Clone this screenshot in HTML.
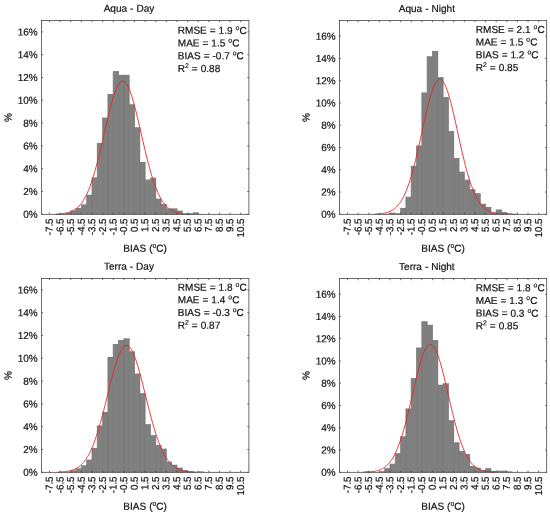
<!DOCTYPE html>
<html><head><meta charset="utf-8"><title>Histograms</title>
<style>
html,body{margin:0;padding:0;background:#fff;}
svg{display:block;font-family:"Liberation Sans",sans-serif;fill:#111;} text{stroke:#111;stroke-width:0.2px;word-spacing:0.2px;}
</style></head><body>
<svg width="550" height="516" viewBox="0 0 550 516">
<rect width="550" height="516" fill="#ffffff"/>
<g><rect x="60.12" y="213.73" width="5.46" height="0.57" fill="#808080"/>
<rect x="65.43" y="212.59" width="5.46" height="1.71" fill="#808080"/>
<rect x="70.74" y="210.53" width="5.46" height="3.77" fill="#808080"/>
<rect x="76.05" y="208.01" width="5.46" height="6.29" fill="#808080"/>
<rect x="81.36" y="204.36" width="5.46" height="9.94" fill="#808080"/>
<rect x="86.67" y="194.75" width="5.46" height="19.55" fill="#808080"/>
<rect x="91.98" y="177.38" width="5.46" height="36.92" fill="#808080"/>
<rect x="97.29" y="142.86" width="5.46" height="71.44" fill="#808080"/>
<rect x="102.60" y="117.60" width="5.46" height="96.70" fill="#808080"/>
<rect x="107.91" y="93.94" width="5.46" height="120.36" fill="#808080"/>
<rect x="113.22" y="71.08" width="5.46" height="143.22" fill="#808080"/>
<rect x="118.53" y="74.85" width="5.46" height="139.45" fill="#808080"/>
<rect x="123.84" y="74.85" width="5.46" height="139.45" fill="#808080"/>
<rect x="129.15" y="104.23" width="5.46" height="110.07" fill="#808080"/>
<rect x="134.46" y="127.20" width="5.46" height="87.10" fill="#808080"/>
<rect x="139.77" y="161.95" width="5.46" height="52.35" fill="#808080"/>
<rect x="145.08" y="179.55" width="5.46" height="34.75" fill="#808080"/>
<rect x="150.39" y="177.72" width="5.46" height="36.58" fill="#808080"/>
<rect x="155.70" y="198.64" width="5.46" height="15.66" fill="#808080"/>
<rect x="161.01" y="204.01" width="5.46" height="10.29" fill="#808080"/>
<rect x="166.32" y="208.36" width="5.46" height="5.94" fill="#808080"/>
<rect x="171.63" y="208.36" width="5.46" height="5.94" fill="#808080"/>
<rect x="176.94" y="210.64" width="5.46" height="3.66" fill="#808080"/>
<rect x="182.25" y="213.73" width="5.46" height="0.57" fill="#808080"/>
<rect x="187.56" y="213.16" width="5.46" height="1.14" fill="#808080"/>
<rect x="192.87" y="212.36" width="5.46" height="1.94" fill="#808080"/>
<rect x="198.18" y="213.96" width="5.46" height="0.34" fill="#808080"/>
<path d="M70.74 214.30V210.53M76.05 214.30V208.01M81.36 214.30V204.36M86.67 214.30V194.75M91.98 214.30V177.38M97.29 214.30V142.86M102.60 214.30V117.60M107.91 214.30V93.94M113.22 214.30V71.08M118.53 214.30V71.08M123.84 214.30V74.85M129.15 214.30V74.85M134.46 214.30V104.23M139.77 214.30V127.20M145.08 214.30V161.95M150.39 214.30V177.72M155.70 214.30V177.72M161.01 214.30V198.64M166.32 214.30V204.01M171.63 214.30V208.36M176.94 214.30V208.36M182.25 214.30V210.64" stroke="#727272" stroke-width="0.7" fill="none"/>
<polyline points="55.87,214.11 56.93,214.06 58.00,214.01 59.06,213.94 60.12,213.87 61.18,213.77 62.24,213.66 63.31,213.53 64.37,213.38 65.43,213.20 66.49,212.99 67.55,212.74 68.62,212.45 69.68,212.12 70.74,211.73 71.80,211.28 72.86,210.77 73.93,210.19 74.99,209.52 76.05,208.77 77.11,207.92 78.17,206.96 79.24,205.88 80.30,204.68 81.36,203.34 82.42,201.86 83.48,200.22 84.55,198.42 85.61,196.46 86.67,194.31 87.73,191.98 88.79,189.46 89.86,186.74 90.92,183.83 91.98,180.72 93.04,177.42 94.10,173.93 95.17,170.25 96.23,166.39 97.29,162.37 98.35,158.20 99.41,153.89 100.48,149.47 101.54,144.95 102.60,140.36 103.66,135.72 104.72,131.08 105.79,126.44 106.85,121.86 107.91,117.36 108.97,112.97 110.03,108.73 111.10,104.68 112.16,100.85 113.22,97.27 114.28,93.98 115.34,91.01 116.41,88.37 117.47,86.11 118.53,84.23 119.59,82.76 120.65,81.71 121.72,81.10 122.78,80.92 123.84,81.19 124.90,81.89 125.96,83.02 127.03,84.57 128.09,86.53 129.15,88.87 130.21,91.57 131.27,94.62 132.34,97.97 133.40,101.60 134.46,105.48 135.52,109.57 136.58,113.84 137.65,118.25 138.71,122.77 139.77,127.37 140.83,132.01 141.89,136.65 142.96,141.28 144.02,145.86 145.08,150.36 146.14,154.76 147.20,159.04 148.27,163.19 149.33,167.18 150.39,171.00 151.45,174.64 152.51,178.10 153.58,181.36 154.64,184.43 155.70,187.30 156.76,189.97 157.82,192.46 158.89,194.75 159.95,196.86 161.01,198.80 162.07,200.56 163.13,202.17 164.20,203.62 165.26,204.93 166.32,206.11 167.38,207.16 168.44,208.09 169.51,208.93 170.57,209.66 171.63,210.31 172.69,210.88 173.75,211.38 174.82,211.81 175.88,212.19 176.94,212.51 178.00,212.79 179.06,213.03 180.13,213.24 181.19,213.41 182.25,213.56 183.31,213.69 184.37,213.79 185.44,213.88 186.50,213.96 187.56,214.02 188.62,214.07 189.68,214.11" fill="none" stroke="#e8262a" stroke-width="0.9"/>
<rect x="41.40" y="20.50" width="207.50" height="193.80" fill="none" stroke="#3a3a3a" stroke-width="0.75"/>
<text transform="translate(52.80,218.50) rotate(-89.9) scale(0.965,1)" text-anchor="end" font-size="10.1">-7.5</text>
<text transform="translate(63.42,218.50) rotate(-89.9) scale(0.965,1)" text-anchor="end" font-size="10.1">-6.5</text>
<text transform="translate(74.04,218.50) rotate(-89.9) scale(0.965,1)" text-anchor="end" font-size="10.1">-5.5</text>
<text transform="translate(84.66,218.50) rotate(-89.9) scale(0.965,1)" text-anchor="end" font-size="10.1">-4.5</text>
<text transform="translate(95.28,218.50) rotate(-89.9) scale(0.965,1)" text-anchor="end" font-size="10.1">-3.5</text>
<text transform="translate(105.90,218.50) rotate(-89.9) scale(0.965,1)" text-anchor="end" font-size="10.1">-2.5</text>
<text transform="translate(116.52,218.50) rotate(-89.9) scale(0.965,1)" text-anchor="end" font-size="10.1">-1.5</text>
<text transform="translate(127.14,218.50) rotate(-89.9) scale(0.965,1)" text-anchor="end" font-size="10.1">-0.5</text>
<text transform="translate(137.76,218.50) rotate(-89.9) scale(0.965,1)" text-anchor="end" font-size="10.1">0.5</text>
<text transform="translate(148.38,218.50) rotate(-89.9) scale(0.965,1)" text-anchor="end" font-size="10.1">1.5</text>
<text transform="translate(159.00,218.50) rotate(-89.9) scale(0.965,1)" text-anchor="end" font-size="10.1">2.5</text>
<text transform="translate(169.62,218.50) rotate(-89.9) scale(0.965,1)" text-anchor="end" font-size="10.1">3.5</text>
<text transform="translate(180.24,218.50) rotate(-89.9) scale(0.965,1)" text-anchor="end" font-size="10.1">4.5</text>
<text transform="translate(190.86,218.50) rotate(-89.9) scale(0.965,1)" text-anchor="end" font-size="10.1">5.5</text>
<text transform="translate(201.48,218.50) rotate(-89.9) scale(0.965,1)" text-anchor="end" font-size="10.1">6.5</text>
<text transform="translate(212.10,218.50) rotate(-89.9) scale(0.965,1)" text-anchor="end" font-size="10.1">7.5</text>
<text transform="translate(222.72,218.50) rotate(-89.9) scale(0.965,1)" text-anchor="end" font-size="10.1">8.5</text>
<text transform="translate(233.34,218.50) rotate(-89.9) scale(0.965,1)" text-anchor="end" font-size="10.1">9.5</text>
<text transform="translate(243.96,218.50) rotate(-89.9) scale(0.965,1)" text-anchor="end" font-size="10.1">10.5</text>
<text transform="translate(37.70,217.85) rotate(0.03) scale(0.98,1)" text-anchor="end" font-size="10.2">0%</text>
<text transform="translate(37.70,195.05) rotate(0.03) scale(0.98,1)" text-anchor="end" font-size="10.2">2%</text>
<text transform="translate(37.70,172.25) rotate(0.03) scale(0.98,1)" text-anchor="end" font-size="10.2">4%</text>
<text transform="translate(37.70,149.45) rotate(0.03) scale(0.98,1)" text-anchor="end" font-size="10.2">6%</text>
<text transform="translate(37.70,126.65) rotate(0.03) scale(0.98,1)" text-anchor="end" font-size="10.2">8%</text>
<text transform="translate(37.70,103.85) rotate(0.03) scale(0.98,1)" text-anchor="end" font-size="10.2">10%</text>
<text transform="translate(37.70,81.05) rotate(0.03) scale(0.98,1)" text-anchor="end" font-size="10.2">12%</text>
<text transform="translate(37.70,58.25) rotate(0.03) scale(0.98,1)" text-anchor="end" font-size="10.2">14%</text>
<text transform="translate(37.70,35.45) rotate(0.03) scale(0.98,1)" text-anchor="end" font-size="10.2">16%</text>
<path d="M49.50 214.30v-1.6M49.50 20.50v1.6M60.12 214.30v-1.6M60.12 20.50v1.6M70.74 214.30v-1.6M70.74 20.50v1.6M81.36 214.30v-1.6M81.36 20.50v1.6M91.98 214.30v-1.6M91.98 20.50v1.6M102.60 214.30v-1.6M102.60 20.50v1.6M113.22 214.30v-1.6M113.22 20.50v1.6M123.84 214.30v-1.6M123.84 20.50v1.6M134.46 214.30v-1.6M134.46 20.50v1.6M145.08 214.30v-1.6M145.08 20.50v1.6M155.70 214.30v-1.6M155.70 20.50v1.6M166.32 214.30v-1.6M166.32 20.50v1.6M176.94 214.30v-1.6M176.94 20.50v1.6M187.56 214.30v-1.6M187.56 20.50v1.6M198.18 214.30v-1.6M198.18 20.50v1.6M208.80 214.30v-1.6M208.80 20.50v1.6M219.42 214.30v-1.6M219.42 20.50v1.6M230.04 214.30v-1.6M230.04 20.50v1.6M240.66 214.30v-1.6M240.66 20.50v1.6M41.40 214.30h1.6M248.90 214.30h-1.6M41.40 191.50h1.6M248.90 191.50h-1.6M41.40 168.70h1.6M248.90 168.70h-1.6M41.40 145.90h1.6M248.90 145.90h-1.6M41.40 123.10h1.6M248.90 123.10h-1.6M41.40 100.30h1.6M248.90 100.30h-1.6M41.40 77.50h1.6M248.90 77.50h-1.6M41.40 54.70h1.6M248.90 54.70h-1.6M41.40 31.90h1.6M248.90 31.90h-1.6" stroke="#444" stroke-width="0.8" fill="none"/>
<text transform="translate(128.95,11.80) rotate(0.03) scale(0.985,1)" text-anchor="middle" font-size="10.2">Aqua - Day</text>
<text transform="translate(145.15,251.80) rotate(0.03) scale(0.985,1)" text-anchor="middle" font-size="10.2">BIAS (<tspan font-size="7" dy="-4">o</tspan><tspan dy="4">C)</tspan></text>
<text transform="translate(11.60,117.60) rotate(-89.9) scale(0.985,1)" text-anchor="middle" font-size="10.2">%</text>
<text transform="translate(177.80,33.85) rotate(0.03) scale(0.985,1)" text-anchor="start" font-size="10.2">RMSE = 1.9 <tspan font-size="7" dy="-4">o</tspan><tspan dy="4">C</tspan></text>
<text transform="translate(177.80,46.53) rotate(0.03) scale(0.985,1)" text-anchor="start" font-size="10.2">MAE = 1.5 <tspan font-size="7" dy="-4">o</tspan><tspan dy="4">C</tspan></text>
<text transform="translate(177.80,59.21) rotate(0.03) scale(0.985,1)" text-anchor="start" font-size="10.2">BIAS = -0.7 <tspan font-size="7" dy="-4">o</tspan><tspan dy="4">C</tspan></text>
<text transform="translate(177.80,71.89) rotate(0.03) scale(0.985,1)" text-anchor="start" font-size="10.2">R<tspan font-size="7" dy="-4">2</tspan><tspan dy="4"> = 0.88</tspan></text></g><g><rect x="384.67" y="213.75" width="5.46" height="0.56" fill="#808080"/>
<rect x="389.98" y="212.64" width="5.46" height="1.66" fill="#808080"/>
<rect x="395.29" y="213.19" width="5.46" height="1.11" fill="#808080"/>
<rect x="400.60" y="207.97" width="5.46" height="6.33" fill="#808080"/>
<rect x="405.91" y="196.76" width="5.46" height="17.54" fill="#808080"/>
<rect x="411.22" y="165.90" width="5.46" height="48.40" fill="#808080"/>
<rect x="416.53" y="145.48" width="5.46" height="68.82" fill="#808080"/>
<rect x="421.84" y="92.42" width="5.46" height="121.88" fill="#808080"/>
<rect x="427.15" y="56.24" width="5.46" height="158.06" fill="#808080"/>
<rect x="432.46" y="50.91" width="5.46" height="163.39" fill="#808080"/>
<rect x="437.77" y="77.10" width="5.46" height="137.20" fill="#808080"/>
<rect x="443.08" y="97.08" width="5.46" height="117.22" fill="#808080"/>
<rect x="448.39" y="131.05" width="5.46" height="83.25" fill="#808080"/>
<rect x="453.70" y="157.91" width="5.46" height="56.39" fill="#808080"/>
<rect x="459.01" y="171.68" width="5.46" height="42.62" fill="#808080"/>
<rect x="464.32" y="179.67" width="5.46" height="34.63" fill="#808080"/>
<rect x="469.63" y="189.21" width="5.46" height="25.09" fill="#808080"/>
<rect x="474.94" y="193.21" width="5.46" height="21.09" fill="#808080"/>
<rect x="480.25" y="203.76" width="5.46" height="10.54" fill="#808080"/>
<rect x="485.56" y="206.97" width="5.46" height="7.33" fill="#808080"/>
<rect x="490.87" y="212.52" width="5.46" height="1.78" fill="#808080"/>
<rect x="496.18" y="209.53" width="5.46" height="4.77" fill="#808080"/>
<rect x="501.49" y="212.08" width="5.46" height="2.22" fill="#808080"/>
<rect x="506.80" y="213.19" width="5.46" height="1.11" fill="#808080"/>
<rect x="512.11" y="213.75" width="5.46" height="0.56" fill="#808080"/>
<path d="M400.60 214.30V207.97M405.91 214.30V196.76M411.22 214.30V165.90M416.53 214.30V145.48M421.84 214.30V92.42M427.15 214.30V56.24M432.46 214.30V50.91M437.77 214.30V50.91M443.08 214.30V77.10M448.39 214.30V97.08M453.70 214.30V131.05M459.01 214.30V157.91M464.32 214.30V171.68M469.63 214.30V179.67M474.94 214.30V189.21M480.25 214.30V193.21M485.56 214.30V203.76M490.87 214.30V206.97M496.18 214.30V209.53M501.49 214.30V209.53" stroke="#727272" stroke-width="0.7" fill="none"/>
<polyline points="375.11,214.10 376.17,214.05 377.24,213.99 378.30,213.92 379.36,213.83 380.42,213.73 381.48,213.61 382.55,213.47 383.61,213.29 384.67,213.09 385.73,212.85 386.79,212.57 387.86,212.25 388.92,211.87 389.98,211.43 391.04,210.92 392.10,210.34 393.17,209.67 394.23,208.91 395.29,208.05 396.35,207.08 397.41,205.98 398.48,204.75 399.54,203.38 400.60,201.85 401.66,200.16 402.72,198.29 403.79,196.24 404.85,194.00 405.91,191.56 406.97,188.92 408.03,186.07 409.10,183.01 410.16,179.74 411.22,176.26 412.28,172.57 413.34,168.69 414.41,164.62 415.47,160.38 416.53,155.98 417.59,151.45 418.65,146.79 419.72,142.05 420.78,137.24 421.84,132.40 422.90,127.56 423.96,122.75 425.03,118.02 426.09,113.39 427.15,108.92 428.21,104.62 429.27,100.56 430.34,96.75 431.40,93.24 432.46,90.07 433.52,87.25 434.58,84.82 435.65,82.81 436.71,81.24 437.77,80.12 438.83,79.46 439.89,79.27 440.96,79.55 442.02,80.31 443.08,81.52 444.14,83.18 445.20,85.28 446.27,87.78 447.33,90.67 448.39,93.92 449.45,97.49 450.51,101.35 451.58,105.47 452.64,109.80 453.70,114.31 454.76,118.96 455.82,123.71 456.89,128.52 457.95,133.37 459.01,138.20 460.07,143.00 461.13,147.73 462.20,152.36 463.26,156.87 464.32,161.24 465.38,165.45 466.44,169.48 467.51,173.32 468.57,176.97 469.63,180.41 470.69,183.64 471.75,186.66 472.82,189.46 473.88,192.07 474.94,194.46 476.00,196.67 477.06,198.68 478.13,200.51 479.19,202.17 480.25,203.66 481.31,205.01 482.37,206.21 483.44,207.28 484.50,208.23 485.56,209.07 486.62,209.81 487.68,210.46 488.75,211.03 489.81,211.52 490.87,211.95 491.93,212.32 492.99,212.63 494.06,212.90 495.12,213.13 496.18,213.33 497.24,213.50 498.30,213.64 499.37,213.75 500.43,213.85 501.49,213.93 502.55,214.00 503.61,214.06 504.68,214.10" fill="none" stroke="#e8262a" stroke-width="0.9"/>
<rect x="339.40" y="20.60" width="207.30" height="193.70" fill="none" stroke="#3a3a3a" stroke-width="0.75"/>
<text transform="translate(350.80,218.50) rotate(-89.9) scale(0.965,1)" text-anchor="end" font-size="10.1">-7.5</text>
<text transform="translate(361.42,218.50) rotate(-89.9) scale(0.965,1)" text-anchor="end" font-size="10.1">-6.5</text>
<text transform="translate(372.04,218.50) rotate(-89.9) scale(0.965,1)" text-anchor="end" font-size="10.1">-5.5</text>
<text transform="translate(382.66,218.50) rotate(-89.9) scale(0.965,1)" text-anchor="end" font-size="10.1">-4.5</text>
<text transform="translate(393.28,218.50) rotate(-89.9) scale(0.965,1)" text-anchor="end" font-size="10.1">-3.5</text>
<text transform="translate(403.90,218.50) rotate(-89.9) scale(0.965,1)" text-anchor="end" font-size="10.1">-2.5</text>
<text transform="translate(414.52,218.50) rotate(-89.9) scale(0.965,1)" text-anchor="end" font-size="10.1">-1.5</text>
<text transform="translate(425.14,218.50) rotate(-89.9) scale(0.965,1)" text-anchor="end" font-size="10.1">-0.5</text>
<text transform="translate(435.76,218.50) rotate(-89.9) scale(0.965,1)" text-anchor="end" font-size="10.1">0.5</text>
<text transform="translate(446.38,218.50) rotate(-89.9) scale(0.965,1)" text-anchor="end" font-size="10.1">1.5</text>
<text transform="translate(457.00,218.50) rotate(-89.9) scale(0.965,1)" text-anchor="end" font-size="10.1">2.5</text>
<text transform="translate(467.62,218.50) rotate(-89.9) scale(0.965,1)" text-anchor="end" font-size="10.1">3.5</text>
<text transform="translate(478.24,218.50) rotate(-89.9) scale(0.965,1)" text-anchor="end" font-size="10.1">4.5</text>
<text transform="translate(488.86,218.50) rotate(-89.9) scale(0.965,1)" text-anchor="end" font-size="10.1">5.5</text>
<text transform="translate(499.48,218.50) rotate(-89.9) scale(0.965,1)" text-anchor="end" font-size="10.1">6.5</text>
<text transform="translate(510.10,218.50) rotate(-89.9) scale(0.965,1)" text-anchor="end" font-size="10.1">7.5</text>
<text transform="translate(520.72,218.50) rotate(-89.9) scale(0.965,1)" text-anchor="end" font-size="10.1">8.5</text>
<text transform="translate(531.34,218.50) rotate(-89.9) scale(0.965,1)" text-anchor="end" font-size="10.1">9.5</text>
<text transform="translate(541.96,218.50) rotate(-89.9) scale(0.965,1)" text-anchor="end" font-size="10.1">10.5</text>
<text transform="translate(335.70,217.85) rotate(0.03) scale(0.98,1)" text-anchor="end" font-size="10.2">0%</text>
<text transform="translate(335.70,195.59) rotate(0.03) scale(0.98,1)" text-anchor="end" font-size="10.2">2%</text>
<text transform="translate(335.70,173.32) rotate(0.03) scale(0.98,1)" text-anchor="end" font-size="10.2">4%</text>
<text transform="translate(335.70,151.06) rotate(0.03) scale(0.98,1)" text-anchor="end" font-size="10.2">6%</text>
<text transform="translate(335.70,128.79) rotate(0.03) scale(0.98,1)" text-anchor="end" font-size="10.2">8%</text>
<text transform="translate(335.70,106.53) rotate(0.03) scale(0.98,1)" text-anchor="end" font-size="10.2">10%</text>
<text transform="translate(335.70,84.26) rotate(0.03) scale(0.98,1)" text-anchor="end" font-size="10.2">12%</text>
<text transform="translate(335.70,62.00) rotate(0.03) scale(0.98,1)" text-anchor="end" font-size="10.2">14%</text>
<text transform="translate(335.70,39.74) rotate(0.03) scale(0.98,1)" text-anchor="end" font-size="10.2">16%</text>
<path d="M347.50 214.30v-1.6M347.50 20.60v1.6M358.12 214.30v-1.6M358.12 20.60v1.6M368.74 214.30v-1.6M368.74 20.60v1.6M379.36 214.30v-1.6M379.36 20.60v1.6M389.98 214.30v-1.6M389.98 20.60v1.6M400.60 214.30v-1.6M400.60 20.60v1.6M411.22 214.30v-1.6M411.22 20.60v1.6M421.84 214.30v-1.6M421.84 20.60v1.6M432.46 214.30v-1.6M432.46 20.60v1.6M443.08 214.30v-1.6M443.08 20.60v1.6M453.70 214.30v-1.6M453.70 20.60v1.6M464.32 214.30v-1.6M464.32 20.60v1.6M474.94 214.30v-1.6M474.94 20.60v1.6M485.56 214.30v-1.6M485.56 20.60v1.6M496.18 214.30v-1.6M496.18 20.60v1.6M506.80 214.30v-1.6M506.80 20.60v1.6M517.42 214.30v-1.6M517.42 20.60v1.6M528.04 214.30v-1.6M528.04 20.60v1.6M538.66 214.30v-1.6M538.66 20.60v1.6M339.40 214.30h1.6M546.70 214.30h-1.6M339.40 192.04h1.6M546.70 192.04h-1.6M339.40 169.77h1.6M546.70 169.77h-1.6M339.40 147.51h1.6M546.70 147.51h-1.6M339.40 125.24h1.6M546.70 125.24h-1.6M339.40 102.98h1.6M546.70 102.98h-1.6M339.40 80.71h1.6M546.70 80.71h-1.6M339.40 58.45h1.6M546.70 58.45h-1.6M339.40 36.19h1.6M546.70 36.19h-1.6" stroke="#444" stroke-width="0.8" fill="none"/>
<text transform="translate(426.85,11.90) rotate(0.03) scale(0.985,1)" text-anchor="middle" font-size="10.2">Aqua - Night</text>
<text transform="translate(443.05,251.80) rotate(0.03) scale(0.985,1)" text-anchor="middle" font-size="10.2">BIAS (<tspan font-size="7" dy="-4">o</tspan><tspan dy="4">C)</tspan></text>
<text transform="translate(309.60,117.65) rotate(-89.9) scale(0.985,1)" text-anchor="middle" font-size="10.2">%</text>
<text transform="translate(475.80,32.90) rotate(0.03) scale(0.985,1)" text-anchor="start" font-size="10.2">RMSE = 2.1 <tspan font-size="7" dy="-4">o</tspan><tspan dy="4">C</tspan></text>
<text transform="translate(475.80,45.58) rotate(0.03) scale(0.985,1)" text-anchor="start" font-size="10.2">MAE = 1.5 <tspan font-size="7" dy="-4">o</tspan><tspan dy="4">C</tspan></text>
<text transform="translate(475.80,58.26) rotate(0.03) scale(0.985,1)" text-anchor="start" font-size="10.2">BIAS = 1.2 <tspan font-size="7" dy="-4">o</tspan><tspan dy="4">C</tspan></text>
<text transform="translate(475.80,70.94) rotate(0.03) scale(0.985,1)" text-anchor="start" font-size="10.2">R<tspan font-size="7" dy="-4">2</tspan><tspan dy="4"> = 0.85</tspan></text></g><g><rect x="65.43" y="471.73" width="5.46" height="0.57" fill="#808080"/>
<rect x="70.74" y="470.24" width="5.46" height="2.06" fill="#808080"/>
<rect x="76.05" y="468.30" width="5.46" height="4.00" fill="#808080"/>
<rect x="81.36" y="465.33" width="5.46" height="6.97" fill="#808080"/>
<rect x="86.67" y="459.61" width="5.46" height="12.69" fill="#808080"/>
<rect x="91.98" y="447.95" width="5.46" height="24.35" fill="#808080"/>
<rect x="97.29" y="425.44" width="5.46" height="46.86" fill="#808080"/>
<rect x="102.60" y="411.95" width="5.46" height="60.35" fill="#808080"/>
<rect x="107.91" y="356.97" width="5.46" height="115.33" fill="#808080"/>
<rect x="113.22" y="343.94" width="5.46" height="128.36" fill="#808080"/>
<rect x="118.53" y="340.05" width="5.46" height="132.25" fill="#808080"/>
<rect x="123.84" y="338.34" width="5.46" height="133.96" fill="#808080"/>
<rect x="129.15" y="351.26" width="5.46" height="121.04" fill="#808080"/>
<rect x="134.46" y="373.54" width="5.46" height="98.76" fill="#808080"/>
<rect x="139.77" y="393.09" width="5.46" height="79.21" fill="#808080"/>
<rect x="145.08" y="424.07" width="5.46" height="48.23" fill="#808080"/>
<rect x="150.39" y="435.15" width="5.46" height="37.15" fill="#808080"/>
<rect x="155.70" y="444.87" width="5.46" height="27.43" fill="#808080"/>
<rect x="161.01" y="448.64" width="5.46" height="23.66" fill="#808080"/>
<rect x="166.32" y="461.67" width="5.46" height="10.63" fill="#808080"/>
<rect x="171.63" y="464.76" width="5.46" height="7.54" fill="#808080"/>
<rect x="176.94" y="467.61" width="5.46" height="4.69" fill="#808080"/>
<rect x="182.25" y="470.01" width="5.46" height="2.29" fill="#808080"/>
<rect x="187.56" y="471.16" width="5.46" height="1.14" fill="#808080"/>
<rect x="192.87" y="471.73" width="5.46" height="0.57" fill="#808080"/>
<rect x="198.18" y="471.39" width="5.46" height="0.91" fill="#808080"/>
<path d="M76.05 472.30V468.30M81.36 472.30V465.33M86.67 472.30V459.61M91.98 472.30V447.95M97.29 472.30V425.44M102.60 472.30V411.95M107.91 472.30V356.97M113.22 472.30V343.94M118.53 472.30V340.05M123.84 472.30V338.34M129.15 472.30V338.34M134.46 472.30V351.26M139.77 472.30V373.54M145.08 472.30V393.09M150.39 472.30V424.07M155.70 472.30V435.15M161.01 472.30V444.87M166.32 472.30V448.64M171.63 472.30V461.67M176.94 472.30V464.76M182.25 472.30V467.61" stroke="#727272" stroke-width="0.7" fill="none"/>
<polyline points="58.00,472.11 59.06,472.07 60.12,472.01 61.18,471.95 62.24,471.88 63.31,471.79 64.37,471.69 65.43,471.57 66.49,471.43 67.55,471.26 68.62,471.07 69.68,470.84 70.74,470.58 71.80,470.28 72.86,469.93 73.93,469.53 74.99,469.07 76.05,468.55 77.11,467.95 78.17,467.28 79.24,466.53 80.30,465.68 81.36,464.73 82.42,463.67 83.48,462.49 84.55,461.18 85.61,459.74 86.67,458.16 87.73,456.43 88.79,454.55 89.86,452.50 90.92,450.28 91.98,447.89 93.04,445.33 94.10,442.59 95.17,439.67 96.23,436.58 97.29,433.32 98.35,429.89 99.41,426.30 100.48,422.57 101.54,418.70 102.60,414.72 103.66,410.62 104.72,406.44 105.79,402.20 106.85,397.92 107.91,393.62 108.97,389.34 110.03,385.09 111.10,380.91 112.16,376.83 113.22,372.87 114.28,369.08 115.34,365.47 116.41,362.09 117.47,358.95 118.53,356.08 119.59,353.51 120.65,351.27 121.72,349.36 122.78,347.82 123.84,346.65 124.90,345.86 125.96,345.47 127.03,345.47 128.09,345.86 129.15,346.65 130.21,347.82 131.27,349.36 132.34,351.27 133.40,353.51 134.46,356.08 135.52,358.95 136.58,362.09 137.65,365.47 138.71,369.08 139.77,372.87 140.83,376.83 141.89,380.91 142.96,385.09 144.02,389.34 145.08,393.62 146.14,397.92 147.20,402.20 148.27,406.44 149.33,410.62 150.39,414.72 151.45,418.70 152.51,422.57 153.58,426.30 154.64,429.89 155.70,433.32 156.76,436.58 157.82,439.67 158.89,442.59 159.95,445.33 161.01,447.89 162.07,450.28 163.13,452.50 164.20,454.55 165.26,456.43 166.32,458.16 167.38,459.74 168.44,461.18 169.51,462.49 170.57,463.67 171.63,464.73 172.69,465.68 173.75,466.53 174.82,467.28 175.88,467.95 176.94,468.55 178.00,469.07 179.06,469.53 180.13,469.93 181.19,470.28 182.25,470.58 183.31,470.84 184.37,471.07 185.44,471.26 186.50,471.43 187.56,471.57 188.62,471.69 189.68,471.79 190.75,471.88 191.81,471.95 192.87,472.01 193.93,472.07 194.99,472.11" fill="none" stroke="#e8262a" stroke-width="0.9"/>
<rect x="41.40" y="278.50" width="207.50" height="193.80" fill="none" stroke="#3a3a3a" stroke-width="0.75"/>
<text transform="translate(52.80,476.50) rotate(-89.9) scale(0.965,1)" text-anchor="end" font-size="10.1">-7.5</text>
<text transform="translate(63.42,476.50) rotate(-89.9) scale(0.965,1)" text-anchor="end" font-size="10.1">-6.5</text>
<text transform="translate(74.04,476.50) rotate(-89.9) scale(0.965,1)" text-anchor="end" font-size="10.1">-5.5</text>
<text transform="translate(84.66,476.50) rotate(-89.9) scale(0.965,1)" text-anchor="end" font-size="10.1">-4.5</text>
<text transform="translate(95.28,476.50) rotate(-89.9) scale(0.965,1)" text-anchor="end" font-size="10.1">-3.5</text>
<text transform="translate(105.90,476.50) rotate(-89.9) scale(0.965,1)" text-anchor="end" font-size="10.1">-2.5</text>
<text transform="translate(116.52,476.50) rotate(-89.9) scale(0.965,1)" text-anchor="end" font-size="10.1">-1.5</text>
<text transform="translate(127.14,476.50) rotate(-89.9) scale(0.965,1)" text-anchor="end" font-size="10.1">-0.5</text>
<text transform="translate(137.76,476.50) rotate(-89.9) scale(0.965,1)" text-anchor="end" font-size="10.1">0.5</text>
<text transform="translate(148.38,476.50) rotate(-89.9) scale(0.965,1)" text-anchor="end" font-size="10.1">1.5</text>
<text transform="translate(159.00,476.50) rotate(-89.9) scale(0.965,1)" text-anchor="end" font-size="10.1">2.5</text>
<text transform="translate(169.62,476.50) rotate(-89.9) scale(0.965,1)" text-anchor="end" font-size="10.1">3.5</text>
<text transform="translate(180.24,476.50) rotate(-89.9) scale(0.965,1)" text-anchor="end" font-size="10.1">4.5</text>
<text transform="translate(190.86,476.50) rotate(-89.9) scale(0.965,1)" text-anchor="end" font-size="10.1">5.5</text>
<text transform="translate(201.48,476.50) rotate(-89.9) scale(0.965,1)" text-anchor="end" font-size="10.1">6.5</text>
<text transform="translate(212.10,476.50) rotate(-89.9) scale(0.965,1)" text-anchor="end" font-size="10.1">7.5</text>
<text transform="translate(222.72,476.50) rotate(-89.9) scale(0.965,1)" text-anchor="end" font-size="10.1">8.5</text>
<text transform="translate(233.34,476.50) rotate(-89.9) scale(0.965,1)" text-anchor="end" font-size="10.1">9.5</text>
<text transform="translate(243.96,476.50) rotate(-89.9) scale(0.965,1)" text-anchor="end" font-size="10.1">10.5</text>
<text transform="translate(37.70,475.85) rotate(0.03) scale(0.98,1)" text-anchor="end" font-size="10.2">0%</text>
<text transform="translate(37.70,453.05) rotate(0.03) scale(0.98,1)" text-anchor="end" font-size="10.2">2%</text>
<text transform="translate(37.70,430.25) rotate(0.03) scale(0.98,1)" text-anchor="end" font-size="10.2">4%</text>
<text transform="translate(37.70,407.45) rotate(0.03) scale(0.98,1)" text-anchor="end" font-size="10.2">6%</text>
<text transform="translate(37.70,384.65) rotate(0.03) scale(0.98,1)" text-anchor="end" font-size="10.2">8%</text>
<text transform="translate(37.70,361.85) rotate(0.03) scale(0.98,1)" text-anchor="end" font-size="10.2">10%</text>
<text transform="translate(37.70,339.05) rotate(0.03) scale(0.98,1)" text-anchor="end" font-size="10.2">12%</text>
<text transform="translate(37.70,316.25) rotate(0.03) scale(0.98,1)" text-anchor="end" font-size="10.2">14%</text>
<text transform="translate(37.70,293.45) rotate(0.03) scale(0.98,1)" text-anchor="end" font-size="10.2">16%</text>
<path d="M49.50 472.30v-1.6M49.50 278.50v1.6M60.12 472.30v-1.6M60.12 278.50v1.6M70.74 472.30v-1.6M70.74 278.50v1.6M81.36 472.30v-1.6M81.36 278.50v1.6M91.98 472.30v-1.6M91.98 278.50v1.6M102.60 472.30v-1.6M102.60 278.50v1.6M113.22 472.30v-1.6M113.22 278.50v1.6M123.84 472.30v-1.6M123.84 278.50v1.6M134.46 472.30v-1.6M134.46 278.50v1.6M145.08 472.30v-1.6M145.08 278.50v1.6M155.70 472.30v-1.6M155.70 278.50v1.6M166.32 472.30v-1.6M166.32 278.50v1.6M176.94 472.30v-1.6M176.94 278.50v1.6M187.56 472.30v-1.6M187.56 278.50v1.6M198.18 472.30v-1.6M198.18 278.50v1.6M208.80 472.30v-1.6M208.80 278.50v1.6M219.42 472.30v-1.6M219.42 278.50v1.6M230.04 472.30v-1.6M230.04 278.50v1.6M240.66 472.30v-1.6M240.66 278.50v1.6M41.40 472.30h1.6M248.90 472.30h-1.6M41.40 449.50h1.6M248.90 449.50h-1.6M41.40 426.70h1.6M248.90 426.70h-1.6M41.40 403.90h1.6M248.90 403.90h-1.6M41.40 381.10h1.6M248.90 381.10h-1.6M41.40 358.30h1.6M248.90 358.30h-1.6M41.40 335.50h1.6M248.90 335.50h-1.6M41.40 312.70h1.6M248.90 312.70h-1.6M41.40 289.90h1.6M248.90 289.90h-1.6" stroke="#444" stroke-width="0.8" fill="none"/>
<text transform="translate(128.95,269.80) rotate(0.03) scale(0.985,1)" text-anchor="middle" font-size="10.2">Terra - Day</text>
<text transform="translate(145.15,509.80) rotate(0.03) scale(0.985,1)" text-anchor="middle" font-size="10.2">BIAS (<tspan font-size="7" dy="-4">o</tspan><tspan dy="4">C)</tspan></text>
<text transform="translate(11.60,375.60) rotate(-89.9) scale(0.985,1)" text-anchor="middle" font-size="10.2">%</text>
<text transform="translate(177.80,290.65) rotate(0.03) scale(0.985,1)" text-anchor="start" font-size="10.2">RMSE = 1.8 <tspan font-size="7" dy="-4">o</tspan><tspan dy="4">C</tspan></text>
<text transform="translate(177.80,303.33) rotate(0.03) scale(0.985,1)" text-anchor="start" font-size="10.2">MAE = 1.4 <tspan font-size="7" dy="-4">o</tspan><tspan dy="4">C</tspan></text>
<text transform="translate(177.80,316.01) rotate(0.03) scale(0.985,1)" text-anchor="start" font-size="10.2">BIAS = -0.3 <tspan font-size="7" dy="-4">o</tspan><tspan dy="4">C</tspan></text>
<text transform="translate(177.80,328.69) rotate(0.03) scale(0.985,1)" text-anchor="start" font-size="10.2">R<tspan font-size="7" dy="-4">2</tspan><tspan dy="4"> = 0.87</tspan></text></g><g><rect x="363.43" y="471.41" width="5.46" height="0.89" fill="#808080"/>
<rect x="379.36" y="471.19" width="5.46" height="1.11" fill="#808080"/>
<rect x="384.67" y="468.18" width="5.46" height="4.12" fill="#808080"/>
<rect x="389.98" y="463.73" width="5.46" height="8.57" fill="#808080"/>
<rect x="395.29" y="453.16" width="5.46" height="19.14" fill="#808080"/>
<rect x="400.60" y="436.24" width="5.46" height="36.06" fill="#808080"/>
<rect x="405.91" y="408.53" width="5.46" height="63.77" fill="#808080"/>
<rect x="411.22" y="378.03" width="5.46" height="94.27" fill="#808080"/>
<rect x="416.53" y="347.53" width="5.46" height="124.77" fill="#808080"/>
<rect x="421.84" y="321.27" width="5.46" height="151.03" fill="#808080"/>
<rect x="427.15" y="324.83" width="5.46" height="147.47" fill="#808080"/>
<rect x="432.46" y="340.08" width="5.46" height="132.22" fill="#808080"/>
<rect x="437.77" y="384.71" width="5.46" height="87.59" fill="#808080"/>
<rect x="443.08" y="383.26" width="5.46" height="89.04" fill="#808080"/>
<rect x="448.39" y="420.21" width="5.46" height="52.09" fill="#808080"/>
<rect x="453.70" y="442.25" width="5.46" height="30.05" fill="#808080"/>
<rect x="459.01" y="450.93" width="5.46" height="21.37" fill="#808080"/>
<rect x="464.32" y="454.05" width="5.46" height="18.25" fill="#808080"/>
<rect x="469.63" y="465.96" width="5.46" height="6.34" fill="#808080"/>
<rect x="474.94" y="467.74" width="5.46" height="4.56" fill="#808080"/>
<rect x="480.25" y="470.07" width="5.46" height="2.23" fill="#808080"/>
<rect x="485.56" y="468.18" width="5.46" height="4.12" fill="#808080"/>
<rect x="490.87" y="470.96" width="5.46" height="1.34" fill="#808080"/>
<rect x="496.18" y="470.63" width="5.46" height="1.67" fill="#808080"/>
<rect x="501.49" y="470.63" width="5.46" height="1.67" fill="#808080"/>
<rect x="506.80" y="471.41" width="5.46" height="0.89" fill="#808080"/>
<path d="M384.67 472.30V468.18M389.98 472.30V463.73M395.29 472.30V453.16M400.60 472.30V436.24M405.91 472.30V408.53M411.22 472.30V378.03M416.53 472.30V347.53M421.84 472.30V321.27M427.15 472.30V321.27M432.46 472.30V324.83M437.77 472.30V340.08M443.08 472.30V383.26M448.39 472.30V383.26M453.70 472.30V420.21M459.01 472.30V442.25M464.32 472.30V450.93M469.63 472.30V454.05M474.94 472.30V465.96M480.25 472.30V467.74M485.56 472.30V468.18M490.87 472.30V468.18" stroke="#727272" stroke-width="0.7" fill="none"/>
<polyline points="365.55,472.11 366.62,472.07 367.68,472.01 368.74,471.95 369.80,471.87 370.86,471.77 371.93,471.66 372.99,471.52 374.05,471.36 375.11,471.18 376.17,470.95 377.24,470.69 378.30,470.39 379.36,470.03 380.42,469.62 381.48,469.15 382.55,468.61 383.61,467.99 384.67,467.28 385.73,466.47 386.79,465.56 387.86,464.53 388.92,463.38 389.98,462.09 391.04,460.66 392.10,459.07 393.17,457.32 394.23,455.40 395.29,453.29 396.35,451.00 397.41,448.52 398.48,445.84 399.54,442.96 400.60,439.88 401.66,436.60 402.72,433.13 403.79,429.47 404.85,425.64 405.91,421.64 406.97,417.48 408.03,413.20 409.10,408.80 410.16,404.31 411.22,399.76 412.28,395.18 413.34,390.59 414.41,386.04 415.47,381.54 416.53,377.15 417.59,372.89 418.65,368.81 419.72,364.93 420.78,361.30 421.84,357.95 422.90,354.91 423.96,352.20 425.03,349.87 426.09,347.92 427.15,346.39 428.21,345.28 429.27,344.61 430.34,344.39 431.40,344.61 432.46,345.28 433.52,346.39 434.58,347.92 435.65,349.87 436.71,352.20 437.77,354.91 438.83,357.95 439.89,361.30 440.96,364.93 442.02,368.81 443.08,372.89 444.14,377.15 445.20,381.54 446.27,386.04 447.33,390.59 448.39,395.18 449.45,399.76 450.51,404.31 451.58,408.80 452.64,413.20 453.70,417.48 454.76,421.64 455.82,425.64 456.89,429.47 457.95,433.13 459.01,436.60 460.07,439.88 461.13,442.96 462.20,445.84 463.26,448.52 464.32,451.00 465.38,453.29 466.44,455.40 467.51,457.32 468.57,459.07 469.63,460.66 470.69,462.09 471.75,463.38 472.82,464.53 473.88,465.56 474.94,466.47 476.00,467.28 477.06,467.99 478.13,468.61 479.19,469.15 480.25,469.62 481.31,470.03 482.37,470.39 483.44,470.69 484.50,470.95 485.56,471.18 486.62,471.36 487.68,471.52 488.75,471.66 489.81,471.77 490.87,471.87 491.93,471.95 492.99,472.01 494.06,472.07 495.12,472.11" fill="none" stroke="#e8262a" stroke-width="0.9"/>
<rect x="339.40" y="278.60" width="207.30" height="193.70" fill="none" stroke="#3a3a3a" stroke-width="0.75"/>
<text transform="translate(350.80,476.50) rotate(-89.9) scale(0.965,1)" text-anchor="end" font-size="10.1">-7.5</text>
<text transform="translate(361.42,476.50) rotate(-89.9) scale(0.965,1)" text-anchor="end" font-size="10.1">-6.5</text>
<text transform="translate(372.04,476.50) rotate(-89.9) scale(0.965,1)" text-anchor="end" font-size="10.1">-5.5</text>
<text transform="translate(382.66,476.50) rotate(-89.9) scale(0.965,1)" text-anchor="end" font-size="10.1">-4.5</text>
<text transform="translate(393.28,476.50) rotate(-89.9) scale(0.965,1)" text-anchor="end" font-size="10.1">-3.5</text>
<text transform="translate(403.90,476.50) rotate(-89.9) scale(0.965,1)" text-anchor="end" font-size="10.1">-2.5</text>
<text transform="translate(414.52,476.50) rotate(-89.9) scale(0.965,1)" text-anchor="end" font-size="10.1">-1.5</text>
<text transform="translate(425.14,476.50) rotate(-89.9) scale(0.965,1)" text-anchor="end" font-size="10.1">-0.5</text>
<text transform="translate(435.76,476.50) rotate(-89.9) scale(0.965,1)" text-anchor="end" font-size="10.1">0.5</text>
<text transform="translate(446.38,476.50) rotate(-89.9) scale(0.965,1)" text-anchor="end" font-size="10.1">1.5</text>
<text transform="translate(457.00,476.50) rotate(-89.9) scale(0.965,1)" text-anchor="end" font-size="10.1">2.5</text>
<text transform="translate(467.62,476.50) rotate(-89.9) scale(0.965,1)" text-anchor="end" font-size="10.1">3.5</text>
<text transform="translate(478.24,476.50) rotate(-89.9) scale(0.965,1)" text-anchor="end" font-size="10.1">4.5</text>
<text transform="translate(488.86,476.50) rotate(-89.9) scale(0.965,1)" text-anchor="end" font-size="10.1">5.5</text>
<text transform="translate(499.48,476.50) rotate(-89.9) scale(0.965,1)" text-anchor="end" font-size="10.1">6.5</text>
<text transform="translate(510.10,476.50) rotate(-89.9) scale(0.965,1)" text-anchor="end" font-size="10.1">7.5</text>
<text transform="translate(520.72,476.50) rotate(-89.9) scale(0.965,1)" text-anchor="end" font-size="10.1">8.5</text>
<text transform="translate(531.34,476.50) rotate(-89.9) scale(0.965,1)" text-anchor="end" font-size="10.1">9.5</text>
<text transform="translate(541.96,476.50) rotate(-89.9) scale(0.965,1)" text-anchor="end" font-size="10.1">10.5</text>
<text transform="translate(335.70,475.85) rotate(0.03) scale(0.98,1)" text-anchor="end" font-size="10.2">0%</text>
<text transform="translate(335.70,453.59) rotate(0.03) scale(0.98,1)" text-anchor="end" font-size="10.2">2%</text>
<text transform="translate(335.70,431.32) rotate(0.03) scale(0.98,1)" text-anchor="end" font-size="10.2">4%</text>
<text transform="translate(335.70,409.06) rotate(0.03) scale(0.98,1)" text-anchor="end" font-size="10.2">6%</text>
<text transform="translate(335.70,386.79) rotate(0.03) scale(0.98,1)" text-anchor="end" font-size="10.2">8%</text>
<text transform="translate(335.70,364.53) rotate(0.03) scale(0.98,1)" text-anchor="end" font-size="10.2">10%</text>
<text transform="translate(335.70,342.26) rotate(0.03) scale(0.98,1)" text-anchor="end" font-size="10.2">12%</text>
<text transform="translate(335.70,320.00) rotate(0.03) scale(0.98,1)" text-anchor="end" font-size="10.2">14%</text>
<text transform="translate(335.70,297.74) rotate(0.03) scale(0.98,1)" text-anchor="end" font-size="10.2">16%</text>
<path d="M347.50 472.30v-1.6M347.50 278.60v1.6M358.12 472.30v-1.6M358.12 278.60v1.6M368.74 472.30v-1.6M368.74 278.60v1.6M379.36 472.30v-1.6M379.36 278.60v1.6M389.98 472.30v-1.6M389.98 278.60v1.6M400.60 472.30v-1.6M400.60 278.60v1.6M411.22 472.30v-1.6M411.22 278.60v1.6M421.84 472.30v-1.6M421.84 278.60v1.6M432.46 472.30v-1.6M432.46 278.60v1.6M443.08 472.30v-1.6M443.08 278.60v1.6M453.70 472.30v-1.6M453.70 278.60v1.6M464.32 472.30v-1.6M464.32 278.60v1.6M474.94 472.30v-1.6M474.94 278.60v1.6M485.56 472.30v-1.6M485.56 278.60v1.6M496.18 472.30v-1.6M496.18 278.60v1.6M506.80 472.30v-1.6M506.80 278.60v1.6M517.42 472.30v-1.6M517.42 278.60v1.6M528.04 472.30v-1.6M528.04 278.60v1.6M538.66 472.30v-1.6M538.66 278.60v1.6M339.40 472.30h1.6M546.70 472.30h-1.6M339.40 450.04h1.6M546.70 450.04h-1.6M339.40 427.77h1.6M546.70 427.77h-1.6M339.40 405.51h1.6M546.70 405.51h-1.6M339.40 383.24h1.6M546.70 383.24h-1.6M339.40 360.98h1.6M546.70 360.98h-1.6M339.40 338.71h1.6M546.70 338.71h-1.6M339.40 316.45h1.6M546.70 316.45h-1.6M339.40 294.19h1.6M546.70 294.19h-1.6" stroke="#444" stroke-width="0.8" fill="none"/>
<text transform="translate(426.85,269.90) rotate(0.03) scale(0.985,1)" text-anchor="middle" font-size="10.2">Terra - Night</text>
<text transform="translate(443.05,509.80) rotate(0.03) scale(0.985,1)" text-anchor="middle" font-size="10.2">BIAS (<tspan font-size="7" dy="-4">o</tspan><tspan dy="4">C)</tspan></text>
<text transform="translate(309.60,375.65) rotate(-89.9) scale(0.985,1)" text-anchor="middle" font-size="10.2">%</text>
<text transform="translate(475.80,291.25) rotate(0.03) scale(0.985,1)" text-anchor="start" font-size="10.2">RMSE = 1.8 <tspan font-size="7" dy="-4">o</tspan><tspan dy="4">C</tspan></text>
<text transform="translate(475.80,303.93) rotate(0.03) scale(0.985,1)" text-anchor="start" font-size="10.2">MAE = 1.3 <tspan font-size="7" dy="-4">o</tspan><tspan dy="4">C</tspan></text>
<text transform="translate(475.80,316.61) rotate(0.03) scale(0.985,1)" text-anchor="start" font-size="10.2">BIAS = 0.3 <tspan font-size="7" dy="-4">o</tspan><tspan dy="4">C</tspan></text>
<text transform="translate(475.80,329.29) rotate(0.03) scale(0.985,1)" text-anchor="start" font-size="10.2">R<tspan font-size="7" dy="-4">2</tspan><tspan dy="4"> = 0.85</tspan></text></g>
</svg>
</body></html>
